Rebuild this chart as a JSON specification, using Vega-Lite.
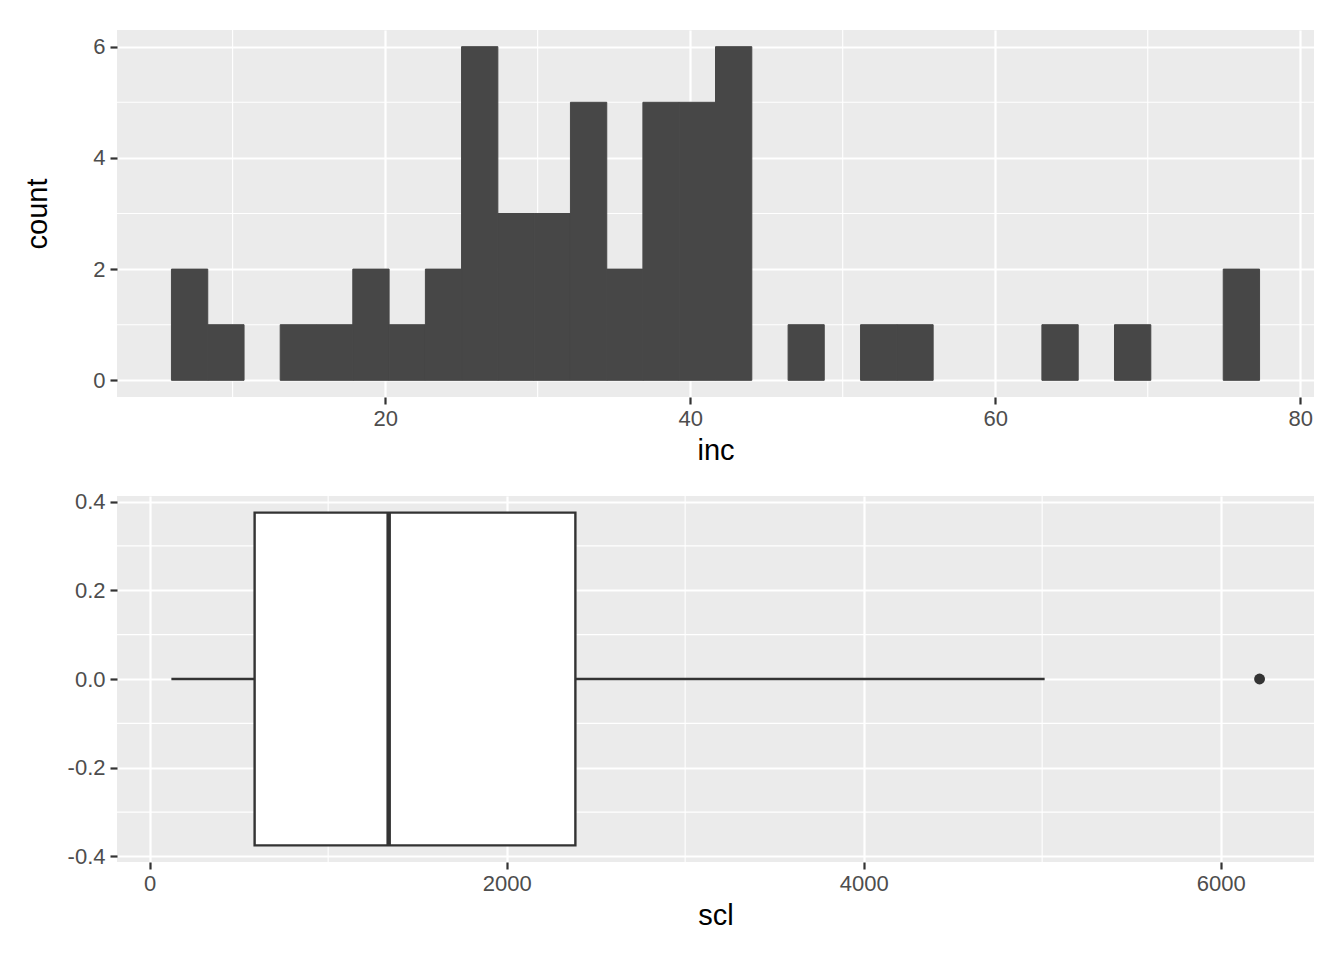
{
  "$schema": "https://vega.github.io/schema/vega-lite/v6.json",
  "background": "white",
  "padding": {"left": 23, "top": 29, "right": 30, "bottom": 5},
  "config": {
    "view": {"fill": "#EBEBEB", "stroke": null},
    "font": "Liberation Sans",
    "axis": {
      "domain": false,
      "tickColor": "#333333",
      "tickSize": 7,
      "tickWidth": 2.2,
      "labelColor": "#4D4D4D",
      "labelFont": "Liberation Sans",
      "labelFontSize": 22,
      "titleFont": "Liberation Sans",
      "titleFontSize": 29,
      "titleFontWeight": "normal",
      "titleColor": "#000000",
      "gridColor": "#FFFFFF",
      "gridWidth": 2.2,
      "labelPadding": 4,
      "titlePadding": 7
    },
    "axisY": {"labelPadding": 5, "titlePadding": 40},
    "concat": {"spacing": 25}
  },
  "vconcat": [
    {
      "width": 1197,
      "height": 367,
      "layer": [
        {
          "data": {"values": [{"inc": 10}, {"inc": 30}, {"inc": 50}, {"inc": 70}]},
          "mark": {"type": "rule", "color": "#FFFFFF", "strokeWidth": 1.1},
          "encoding": {"x": {"field": "inc", "type": "quantitative", "title": "inc"}}
        },
        {
          "data": {"values": [{"count": 1}, {"count": 3}, {"count": 5}]},
          "mark": {"type": "rule", "color": "#FFFFFF", "strokeWidth": 1.1},
          "encoding": {"y": {"field": "count", "type": "quantitative", "title": "count"}}
        },
        {
          "data": {"values": [
            {"bin_start": 5.99, "bin_end": 8.37, "count": 2},
            {"bin_start": 8.37, "bin_end": 10.75, "count": 1},
            {"bin_start": 13.12, "bin_end": 15.5, "count": 1},
            {"bin_start": 15.5, "bin_end": 17.88, "count": 1},
            {"bin_start": 17.88, "bin_end": 20.26, "count": 2},
            {"bin_start": 20.26, "bin_end": 22.64, "count": 1},
            {"bin_start": 22.64, "bin_end": 25.01, "count": 2},
            {"bin_start": 25.01, "bin_end": 27.39, "count": 6},
            {"bin_start": 27.39, "bin_end": 29.77, "count": 3},
            {"bin_start": 29.77, "bin_end": 32.15, "count": 3},
            {"bin_start": 32.15, "bin_end": 34.53, "count": 5},
            {"bin_start": 34.53, "bin_end": 36.9, "count": 2},
            {"bin_start": 36.9, "bin_end": 39.28, "count": 5},
            {"bin_start": 39.28, "bin_end": 41.66, "count": 5},
            {"bin_start": 41.66, "bin_end": 44.04, "count": 6},
            {"bin_start": 46.42, "bin_end": 48.79, "count": 1},
            {"bin_start": 51.17, "bin_end": 53.55, "count": 1},
            {"bin_start": 53.55, "bin_end": 55.93, "count": 1},
            {"bin_start": 63.06, "bin_end": 65.44, "count": 1},
            {"bin_start": 67.82, "bin_end": 70.2, "count": 1},
            {"bin_start": 74.95, "bin_end": 77.33, "count": 2}
          ]},
          "mark": {"type": "rect", "fill": "#474747", "stroke": "#474747", "strokeWidth": 1},
          "encoding": {
            "x": {
              "field": "bin_start", "type": "quantitative",
              "scale": {"domain": [2.42, 80.9], "nice": false, "zero": false},
              "axis": {"title": "inc", "values": [20, 40, 60, 80], "format": "d"}
            },
            "x2": {"field": "bin_end"},
            "y": {
              "field": "count", "type": "quantitative",
              "scale": {"domain": [-0.3, 6.3], "nice": false, "zero": false},
              "axis": {"title": "count", "values": [0, 2, 4, 6], "format": "d"}
            },
            "y2": {"datum": 0}
          }
        }
      ]
    },
    {
      "width": 1197,
      "height": 366,
      "layer": [
        {
          "data": {"values": [{"scl": 1000}, {"scl": 3000}, {"scl": 5000}]},
          "mark": {"type": "rule", "color": "#FFFFFF", "strokeWidth": 1.1},
          "encoding": {"x": {"field": "scl", "type": "quantitative", "title": "scl"}}
        },
        {
          "data": {"values": [{"y": -0.3}, {"y": -0.1}, {"y": 0.1}, {"y": 0.3}]},
          "mark": {"type": "rule", "color": "#FFFFFF", "strokeWidth": 1.1},
          "encoding": {"y": {"field": "y", "type": "quantitative", "title": null}}
        },
        {
          "data": {"values": [{"from": 121.6, "to": 588}, {"from": 2385, "to": 5014}]},
          "mark": {"type": "rule", "color": "#333333", "strokeWidth": 2.4},
          "encoding": {
            "x": {"field": "from", "type": "quantitative", "title": "scl"},
            "x2": {"field": "to"},
            "y": {"datum": 0, "title": null}
          }
        },
        {
          "data": {"values": [{"q1": 588, "median": 1339, "q3": 2385}]},
          "mark": {"type": "rect", "fill": "#FFFFFF", "stroke": "#333333", "strokeWidth": 2.4},
          "encoding": {
            "x": {
              "field": "q1", "type": "quantitative",
              "scale": {"domain": [-183, 6523], "nice": false, "zero": false},
              "axis": {"title": "scl", "values": [0, 2000, 4000, 6000], "format": "d"}
            },
            "x2": {"field": "q3"},
            "y": {
              "datum": -0.375, "type": "quantitative",
              "scale": {"domain": [-0.4125, 0.4125], "nice": false, "zero": false},
              "axis": {
                "title": null,
                "values": [-0.4, -0.2, 0, 0.2, 0.4],
                "labelExpr": "datum.value < 0 ? '-' + format(-datum.value, '.1f') : format(datum.value, '.1f')"
              }
            },
            "y2": {"datum": 0.375}
          }
        },
        {
          "data": {"values": [{"q1": 588, "median": 1339, "q3": 2385}]},
          "mark": {"type": "rule", "color": "#333333", "strokeWidth": 4.5},
          "encoding": {
            "x": {"field": "median", "type": "quantitative", "title": "scl"},
            "y": {"datum": -0.375, "title": null},
            "y2": {"datum": 0.375}
          }
        },
        {
          "data": {"values": [{"scl": 6218}]},
          "mark": {"type": "point", "filled": true, "color": "#333333", "opacity": 1, "size": 119},
          "encoding": {
            "x": {"field": "scl", "type": "quantitative", "title": "scl"},
            "y": {"datum": 0, "title": null}
          }
        }
      ]
    }
  ]
}
